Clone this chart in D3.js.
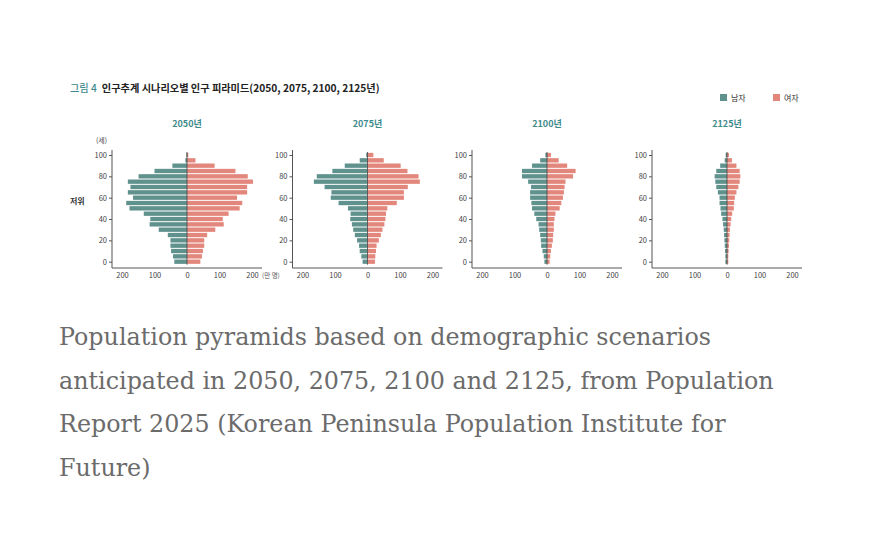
<!DOCTYPE html>
<html><head><meta charset="utf-8">
<script src="https://cdn.jsdelivr.net/npm/d3@7/dist/d3.min.js"></script>
<style>body{margin:0;background:#fff}</style></head>
<body><svg id="c" width="872" height="554"></svg>
<script>
const ages = d3.range(0, 101, 5);
const years = ["2050년", "2075년", "2100년", "2125년"];
const xTicks = [-200, -100, 0, 100, 200];
// values listed from age 0 up to 100 (unit: 만 명)
const male2050 = [39,43,49,51,51,59,87,115,113,133,177,187,166,182,174,182,149,100,45,5,2];
const female2050 = [41,46,49,53,53,62,87,113,110,128,162,170,154,185,185,203,187,149,85,26,4];
const male2075 = [15,19,24,26,32,39,44,48,53,52,60,89,113,111,132,165,156,108,70,24,4];
const female2075 = [23,24,26,28,35,41,46,52,55,57,61,90,112,112,124,161,157,123,102,50,18];
const male2100 = [8,10,14,18,19,21,24,26,33,39,46,48,52,52,49,58,77,77,46,21,5];
const female2100 = [8,10,12,15,18,19,21,21,23,26,39,44,49,52,54,57,80,88,62,36,12];
const male2125 = [5,5,6,7,8,9,10,12,14,18,20,23,23,28,33,36,38,33,21,7,4];
const female2125 = [4,4,5,6,7,8,9,11,13,16,21,22,24,29,35,39,41,39,29,15,6];
const males = [male2050, male2075, male2100, male2125];
const females = [female2050, female2075, female2100, female2125];
const MC = "#5f918d", FC = "#e3867b", TEAL = "#3f8a8c";

const svg = d3.select("#c");
const font = "'Noto Sans CJK KR', sans-serif";
svg.append("text").attr("x", 70).attr("y", 92).attr("font-family", font).attr("font-size", 10.2)
  .attr("font-weight", 700).attr("fill", "#222")
  .html(`<tspan fill="${TEAL}" font-weight="500">그림 4</tspan><tspan dx="5">인구추계 시나리오별 인구 피라미드(2050, 2075, 2100, 2125년)</tspan>`);
// legend
[[MC, "남자", 720], [FC, "여자", 773]].forEach(([c, t, x]) => {
  svg.append("rect").attr("x", x).attr("y", 94).attr("width", 7).attr("height", 7).attr("fill", c);
  svg.append("text").attr("x", x + 11).attr("y", 101).attr("font-family", font).attr("font-size", 8).attr("fill", "#333").text(t);
});
svg.append("text").attr("x", 96).attr("y", 143).attr("font-family", font).attr("font-size", 7).attr("fill", "#444").text("(세)");
svg.append("text").attr("x", 70).attr("y", 204).attr("font-family", font).attr("font-size", 8).attr("font-weight", 700).attr("fill", "#333").text("저위");

const y = d3.scaleLinear().domain([0, 100]).range([261.7, 155]);
const bh = 5.33;
const zeros = [187, 367.5, 547, 727];
years.forEach((yr, i) => {
  const z = zeros[i];
  const x = d3.scaleLinear().domain([-200, 200]).range([z - 65, z + 65]);
  const g = svg.append("g");
  g.append("text").attr("x", z).attr("y", 127).attr("text-anchor", "middle").attr("font-family", font)
    .attr("font-size", 9).attr("font-weight", 700).attr("fill", TEAL).text(yr);
  g.selectAll(".m").data(males[i]).join("rect")
    .attr("x", d => x(-d)).attr("width", d => x(0) - x(-d))
    .attr("y", (d, k) => y(ages[k]) - bh / 2 + 0.5).attr("height", bh - 1).attr("fill", MC);
  g.selectAll(".f").data(females[i]).join("rect")
    .attr("x", x(0)).attr("width", d => x(d) - x(0))
    .attr("y", (d, k) => y(ages[k]) - bh / 2 + 0.5).attr("height", bh - 1).attr("fill", FC);
  g.append("line").attr("x1", z).attr("x2", z).attr("y1", y(100) - 3).attr("y2", y(0) + 3).attr("stroke", "#444").attr("stroke-width", 0.8);
  const ax = g.append("g").attr("transform", `translate(0,268)`)
    .call(d3.axisBottom(x).tickValues(xTicks).tickFormat(d => Math.abs(d)).tickSize(0).tickPadding(5));
  ax.select(".domain").attr("d", `M${z - 75},0H${z + 75}`).attr("stroke", "#555");
  ax.selectAll("text").attr("font-family", font).attr("font-size", 7.5).attr("fill", "#444");
  const ay = g.append("g").attr("transform", `translate(${z - 75},0)`)
    .call(d3.axisLeft(y).tickValues([0, 20, 40, 60, 80, 100]).tickSize(3).tickPadding(2));
  ay.select(".domain").attr("d", `M0,${y(100) - 5}V268`).attr("stroke", "#555");
  ay.selectAll(".tick line").attr("stroke", "#555");
  ay.selectAll("text").attr("font-family", font).attr("font-size", 7.5).attr("fill", "#444");
});
svg.append("text").attr("x", 262).attr("y", 278).attr("font-family", font).attr("font-size", 6.5).attr("fill", "#555").text("(만 명)");

const cap = ["Population pyramids based on demographic scenarios",
  "anticipated in 2050, 2075, 2100 and 2125, from Population",
  "Report 2025 (Korean Peninsula Population Institute for", "Future)"];
cap.forEach((t, k) => svg.append("text").attr("x", 59).attr("y", 345 + k * 43.5)
  .attr("font-family", "'DejaVu Serif', serif").attr("font-size", 23.8).attr("fill", "#6b6b6b").text(t));
</script></body></html>
